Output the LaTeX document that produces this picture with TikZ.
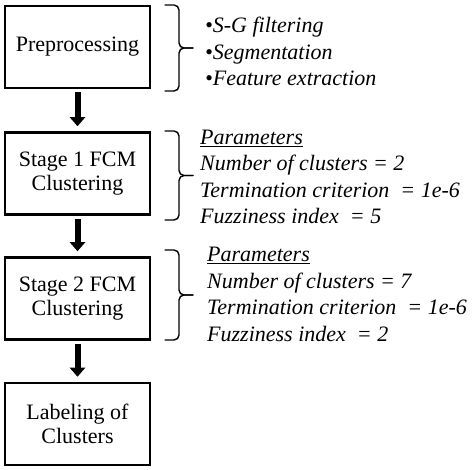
\documentclass[tikz,border=0pt]{standalone}
\usepackage{fontspec}
\setmainfont{Liberation Serif}[ItalicFont={Liberation Serif Italic}]
\usetikzlibrary{arrows.meta}
\tikzset{
  procbox/.style={draw=black, line width=2.5pt, minimum width=145pt, minimum height=82pt,
    align=center, font=\fontsize{22}{24.5}\selectfont, inner sep=2pt},
  flowarrow/.style={line width=6pt, -{Triangle[width=15pt,length=9pt]}, shorten <=3pt, shorten >=5pt},
  bracestyle/.style={line width=1.4pt, line join=round, line cap=round},
  notetext/.style={align=left, anchor=west, inner sep=0pt, font=\fontsize{22}{26.5}\selectfont\itshape}
}
\newcommand\mybrace[3]{%
  \pgfmathsetmacro\bxm{#1+14}%
  \pgfmathsetmacro\bxt{#1+28}%
  \pgfmathsetmacro\bym{(#2+#3)/2}%
  \draw[bracestyle] (#1,#2) -- (\bxm-5,#2) to[out=0,in=90] (\bxm,#2-5) -- (\bxm,\bym+5)
     to[out=-90,in=180] (\bxm+5,\bym) -- (\bxt,\bym);
  \draw[bracestyle] (\bxt,\bym) -- (\bxm+5,\bym) to[out=180,in=90] (\bxm,\bym-5)
     -- (\bxm,#3+5) to[out=-90,in=0] (\bxm-5,#3) -- (#1,#3);
}
\begin{document}
\begin{tikzpicture}[x=1pt,y=1pt]
\useasboundingbox (0,0) rectangle (474,470);
\node[procbox] (b1) at (77.5,423) {Preprocessing};
\node[procbox] (b2) at (77.5,296.5) {Stage 1 FCM\\Clustering};
\node[procbox] (b3) at (77.5,171.5) {Stage 2 FCM\\Clustering};
\node[procbox] (b4) at (77.5,46) {Labeling of\\Clusters};
\draw[flowarrow] (b1) -- (b2);
\draw[flowarrow] (b2) -- (b3);
\draw[flowarrow] (b3) -- (b4);
\mybrace{165}{465}{379}
\mybrace{165}{339}{250}
\mybrace{165}{220}{130}
\node[notetext] (t1) at (205,418.5) {•S-G filtering\\•Segmentation\\•Feature extraction};
\node[notetext] (t2) at (200,293) {\underline{Parameters}\\Number of clusters = 2\\Termination criterion\ \ = 1e-6\\Fuzziness index\ \ = 5};
\node[notetext] (t3) at (207,175.5) {\underline{Parameters}\\Number of clusters = 7\\Termination criterion\ \ = 1e-6\\Fuzziness index\ \ = 2};
\end{tikzpicture}
\end{document}
